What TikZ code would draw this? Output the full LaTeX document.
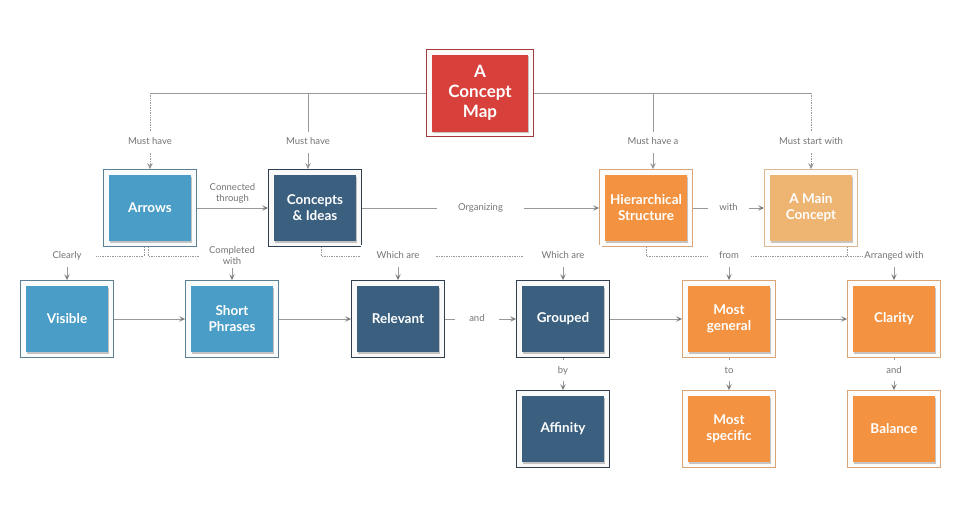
\documentclass[tikz,border=0pt]{standalone}
\usepackage{fontspec}
\setmainfont{Lato}
\usetikzlibrary{arrows.meta,shadows}
\definecolor{mapred}{HTML}{D8413B}
\definecolor{mapframe}{HTML}{A33B40}
\definecolor{lblue}{HTML}{4A9DC6}
\definecolor{lblueframe}{HTML}{5C7F92}
\definecolor{dblue}{HTML}{3A5F7F}
\definecolor{dblueframe}{HTML}{2F3F4F}
\definecolor{orange}{HTML}{F39240}
\definecolor{orangeframe}{HTML}{D8A478}
\definecolor{lorange}{HTML}{EDB472}
\definecolor{lorangeframe}{HTML}{D9B893}
\definecolor{linkgray}{HTML}{999999}
\definecolor{taggray}{HTML}{747474}
\begin{document}
\begin{tikzpicture}[x=1pt,y=-1pt]
		\tikzset{box/.style 2 args = {shape=rectangle, fill=#1, text=white, font=\bfseries\fontsize{13.5}{16}\selectfont, align=center, minimum width=82pt, minimum height=66pt, inner sep=1pt, outer sep=5.8pt, preaction={draw=#2, line width=11.6pt}, preaction={draw=#2!3, line width=9.6pt}, drop shadow={shadow xshift=.8pt, shadow yshift=-1.6pt, opacity=.22, fill=black}}}
		\tikzset{link/.style = {draw=linkgray, line width=.7pt, > = {Stealth[length=6pt,width=5.5pt,inset=2pt]}}}
		\tikzset{note/.style = {text=taggray, font=\fontsize{9.5}{11}\selectfont, align=center}}
		\tikzset{tag/.style = {note, fill=white, inner xsep=14pt, inner ysep=6pt, text height=7pt, text depth=2.2pt}}
		\useasboundingbox (0,0) rectangle (960,512);
		% boxes
		\node[box={mapred}{mapframe}, minimum width=96pt, minimum height=77pt, font=\bfseries\fontsize{17}{20}\selectfont] (map) at (480,93) {A\\Concept\\Map};
		\node[box={lblue}{lblueframe}] (arrows) at (150,208) {Arrows};
		\node[box={dblue}{dblueframe}] (concepts) at (315,208) {Concepts\\\& Ideas};
		\node[box={orange}{orangeframe}] (hier) at (646,208) {Hierarchical\\Structure};
		\node[box={lorange}{lorangeframe}] (main) at (811,208) {A Main\\Concept};
		\node[box={lblue}{lblueframe}] (visible) at (67,319) {Visible};
		\node[box={lblue}{lblueframe}] (phrases) at (232,319) {Short\\Phrases};
		\node[box={dblue}{dblueframe}] (relevant) at (398,319) {Relevant};
		\node[box={dblue}{dblueframe}] (grouped) at (563,319) {Grouped};
		\node[box={orange}{orangeframe}] (general) at (729,319) {Most\\general};
		\node[box={orange}{orangeframe}] (clarity) at (894,319) {Clarity};
		\node[box={dblue}{dblueframe}] (affinity) at (563,429) {Affinity};
		\node[box={orange}{orangeframe}] (specific) at (729,429) {Most\\specific};
		\node[box={orange}{orangeframe}] (balance) at (894,429) {Balance};
		% from the map
		\coordinate (ta) at (150,93);
		\coordinate (tb) at (308,93);
		\coordinate (tc) at (653,93);
		\coordinate (td) at (811,93);
		\draw[link] (map.west) -- (ta);
		\draw[link] (map.east) -- (td);
		\draw[link, densely dotted, ->] (ta) -- node[tag, pos=.65] {Must have} (arrows);
		\draw[link, ->] (tb) -- node[tag, pos=.65] {Must have} (tb |- concepts.north);
		\draw[link, ->] (tc) -- node[tag, pos=.65] {Must have a} (tc |- hier.north);
		\draw[link, densely dotted, ->] (td) -- node[tag, pos=.65] {Must start with} (main);
		% first row
		\path[link, ->] (arrows) edge node[note, above=1pt] {Connected\\through} (concepts);
		\path[link, ->] (concepts) edge node[tag, inner xsep=21pt] {Organizing} (hier);
		\path[link, ->] (hier) edge node[tag, inner xsep=11pt] {with} (main);
		% down to the second row
		\node[tag] (clearly) at (67,256) {Clearly};
		\node[note, fill=white, inner xsep=10pt, inner ysep=3pt] (completed) at (232,256) {Completed\\with};
		\node[tag, inner xsep=16pt] (which1) at (398,256) {Which are};
		\node[tag, inner xsep=18pt] (which2) at (563,256) {Which are};
		\node[tag, inner xsep=12pt] (from) at (729,256) {from};
		\node[tag, inner xsep=2pt] (arranged) at (894,256) {Arranged with};
		\draw[link, densely dotted] ([xshift=-6pt]arrows.south) |- (clearly);
		\draw[link, densely dotted] ([xshift=-2pt]arrows.south) |- (completed);
		\draw[link, densely dotted] ([xshift=6pt]concepts.south) |- (which1) -- (which2);
		\draw[link, densely dotted] (hier.south) |- (from) -- (arranged);
		\draw[link, densely dotted] ([xshift=36pt]main.south) |- (arranged);
		\path[link, ->] (clearly) edge (visible) (completed) edge (phrases) (which1) edge (relevant) (which2) edge (grouped) (from) edge (general) (arranged) edge (clarity);
		% second row
		\path[link, ->] (visible) edge (phrases) (phrases) edge (relevant) (grouped) edge (general) (general) edge (clarity);
		\path[link, ->] (relevant) edge node[tag, pos=.45] {and} (grouped);
		% third row
		\path[link, ->] (grouped) edge node[tag, pos=.4] {by} (affinity);
		\path[link, ->] (general) edge node[tag, pos=.4] {to} (specific);
		\path[link, ->] (clarity) edge node[tag, pos=.4] {and} (balance);
\end{tikzpicture}
\end{document}
